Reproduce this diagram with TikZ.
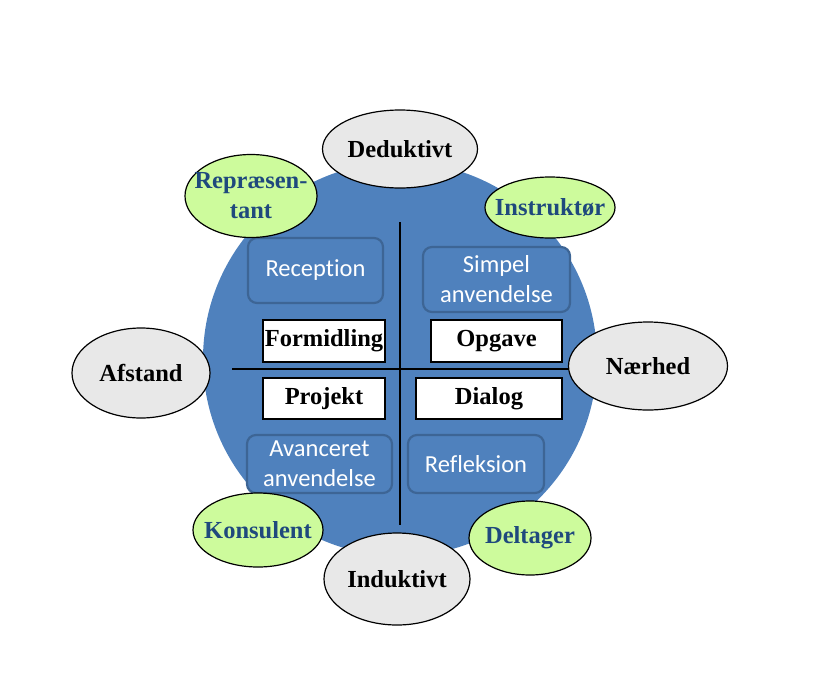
\documentclass[tikz,border=0pt]{standalone}
\usepackage{fontspec}
\setmainfont{Liberation Serif}
\newfontfamily\carlitofont[Ligatures=NoCommon]{Carlito}
\usetikzlibrary{shapes.geometric}
\definecolor{circblue}{HTML}{4F81BD}
\definecolor{boxedge}{HTML}{3D6595}
\definecolor{txtblue}{HTML}{1F497D}
\definecolor{ellgray}{HTML}{E8E8E8}
\definecolor{ellgreen}{HTML}{CDFB9C}
\tikzset{
  serift/.style={font=\fontsize{24.5}{30}\selectfont\bfseries, align=center},
  blacklbl/.style={serift, text=black, inner sep=0pt},
  bluelbl/.style={serift, text=txtblue, inner sep=0pt},
  grayell/.style={ellipse, draw=black, line width=1.2pt, fill=ellgray, inner sep=0pt},
  greenell/.style={ellipse, draw=black, line width=1.2pt, fill=ellgreen, inner sep=0pt},
  whitebox/.style={rectangle, draw=black, line width=1.2pt, fill=white, inner sep=0pt, serift, text=black},
  bluebox/.style={rectangle, rounded corners=9pt, draw=boxedge, line width=2.2pt, fill=circblue, inner sep=0pt, text=white, align=center, font=\carlitofont\fontsize{24.5}{30}\selectfont},
  axisline/.style={draw=black, line width=1.2pt}
}
\begin{document}
\begin{tikzpicture}[x=1pt, y=-1pt]
\useasboundingbox (0,0) rectangle (826,688);
% big circle
\node[circle, fill=circblue, minimum size=394pt, inner sep=0pt] (circ) at (400,359) {};
% axes
\coordinate (vtop) at (400,222);
\coordinate (vbot) at (400,525);
\coordinate (hleft) at (232,369);
\coordinate (hright) at (570,369);
\draw[axisline] (vtop) -- (vbot);
\draw[axisline] (hleft) -- (hright);
% rounded blue boxes
\node[bluebox, minimum width=135pt, minimum height=65pt] (recep) at (315.5,270.5) {Reception};
\node[bluebox, minimum width=147pt, minimum height=65pt] (simpel) at (496.5,279.5) {Simpel\\anvendelse};
\node[bluebox, minimum width=145pt, minimum height=58pt] (avanc) at (319.5,464) {Avanceret\\anvendelse};
\node[bluebox, minimum width=136pt, minimum height=58pt] (refl) at (476,464) {Refleksion};
% white boxes
\node[whitebox, minimum width=122pt, minimum height=42pt] (form) at (324,341) {Formidling};
\node[whitebox, minimum width=131pt, minimum height=42pt] (opg) at (496.5,341) {Opgave};
\node[whitebox, minimum width=122pt, minimum height=41pt] (proj) at (324,398.5) {Projekt};
\node[whitebox, minimum width=146pt, minimum height=41pt] (dial) at (489,398.5) {Dialog};
% gray ellipses
\node[grayell, minimum width=155pt, minimum height=78pt, label={[blacklbl]center:Deduktivt}] (dedu) at (400,149) {};
\node[grayell, minimum width=138pt, minimum height=90pt, label={[blacklbl]center:Afstand}] (afst) at (141,373) {};
\node[grayell, minimum width=159pt, minimum height=88pt, label={[blacklbl]center:Nærhed}] (naer) at (648,366) {};
\node[grayell, minimum width=146pt, minimum height=92pt, label={[blacklbl]center:Induktivt}] (indu) at (397,579) {};
% green ellipses
\node[greenell, minimum width=132pt, minimum height=83pt, label={[bluelbl]center:Repræsen-\\tant}] (repr) at (251,196) {};
\node[greenell, minimum width=130pt, minimum height=61pt, label={[bluelbl]center:Instruktør}] (instr) at (550,207.5) {};
\node[greenell, minimum width=130pt, minimum height=74pt, label={[bluelbl]center:Konsulent}] (kons) at (258,530) {};
\node[greenell, minimum width=122pt, minimum height=74pt, label={[bluelbl]center:Deltager}] (delt) at (530,538) {};
\end{tikzpicture}
\end{document}
